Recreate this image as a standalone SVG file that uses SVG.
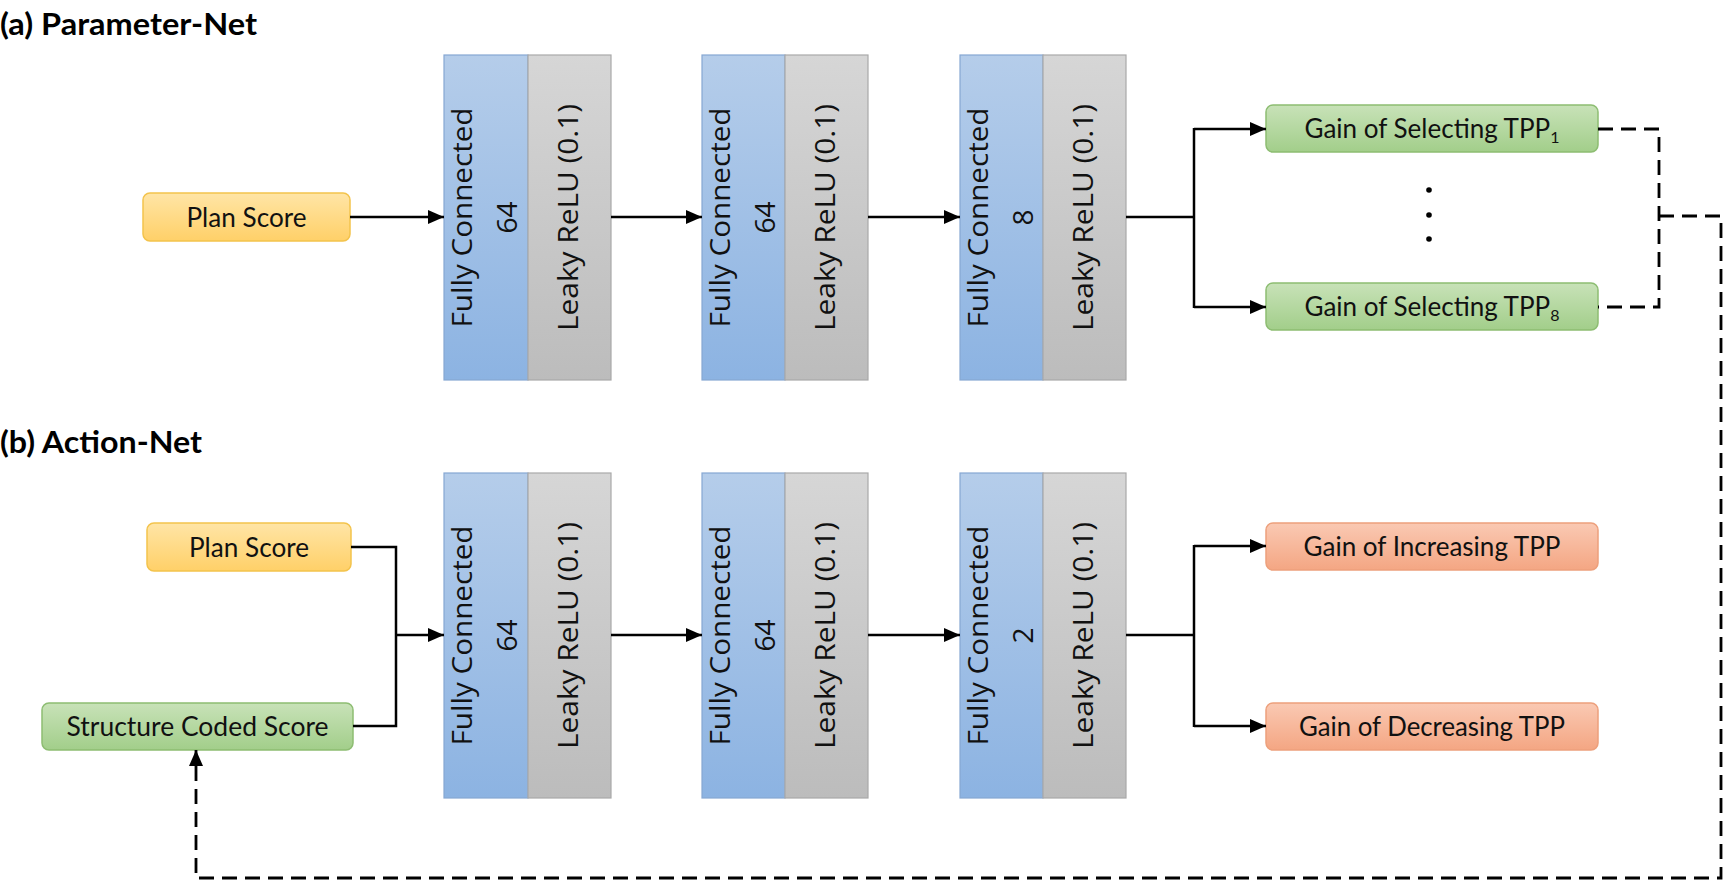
<svg xmlns="http://www.w3.org/2000/svg" width="1725" height="881" viewBox="0 0 1725 881">
<defs>
<linearGradient id="gBlue" x1="0" y1="0" x2="0" y2="1"><stop offset="0" stop-color="#b5cdea"/><stop offset="1" stop-color="#8cb3e2"/></linearGradient>
<linearGradient id="gGray" x1="0" y1="0" x2="0" y2="1"><stop offset="0" stop-color="#d6d6d6"/><stop offset="1" stop-color="#bcbcbc"/></linearGradient>
<linearGradient id="gYel" x1="0" y1="0" x2="0" y2="1"><stop offset="0" stop-color="#ffe5a6"/><stop offset="1" stop-color="#ffd068"/></linearGradient>
<linearGradient id="gGrn" x1="0" y1="0" x2="0" y2="1"><stop offset="0" stop-color="#c8e2b8"/><stop offset="1" stop-color="#a2ce8a"/></linearGradient>
<linearGradient id="gOrg" x1="0" y1="0" x2="0" y2="1"><stop offset="0" stop-color="#fac9b3"/><stop offset="1" stop-color="#f4a683"/></linearGradient>
<marker id="arr" viewBox="0 0 16 14" refX="16" refY="7" markerWidth="16" markerHeight="14" markerUnits="userSpaceOnUse" orient="auto"><path d="M0,0 L16,7 L0,14 z" fill="#000"/></marker>
</defs>
<style>
.title{font-family:Lato,"Liberation Sans",sans-serif;font-weight:700;font-size:30px;fill:#000}
.lbl{font-family:Lato,"Liberation Sans",sans-serif;font-size:26px;fill:#111;text-anchor:middle}
.sub{font-size:16px}
.rot{font-family:"Open Sans","Liberation Sans",sans-serif;font-size:28px;fill:#111;text-anchor:middle}
.fc{fill:url(#gBlue);stroke:#86a7d3;stroke-width:1.2}
.lr{fill:url(#gGray);stroke:#a9a9a9;stroke-width:1.2}
.yel{fill:url(#gYel);stroke:#f3c34c;stroke-width:1.5}
.grn{fill:url(#gGrn);stroke:#8dbd72;stroke-width:1.5}
.org{fill:url(#gOrg);stroke:#eda07c;stroke-width:1.5}
.ln{fill:none;stroke:#000;stroke-width:2.5}
.dash{fill:none;stroke:#000;stroke-width:2.8;stroke-dasharray:15 8}
</style>
<rect width="1725" height="881" fill="#fff"/>
<text class="title" x="0" y="35" textLength="257" lengthAdjust="spacingAndGlyphs">(a) Parameter-Net</text>
<text class="title" x="0" y="453" textLength="202" lengthAdjust="spacingAndGlyphs">(b) Action-Net</text>

<g id="a-plan-score"><rect class="yel" x="143" y="193" width="207" height="48" rx="7"/><text class="lbl" x="246.5" y="226.5" textLength="120" lengthAdjust="spacingAndGlyphs">Plan Score</text></g>

<g id="a-fc1"><rect class="fc" x="444" y="55" width="84" height="325"/><g transform="translate(472,217.5) rotate(-90)"><text class="rot" x="0" y="0" textLength="220" lengthAdjust="spacingAndGlyphs">Fully Connected</text><text class="rot" x="0" y="45">64</text></g></g>
<g id="a-lr1"><rect class="lr" x="528" y="55" width="83" height="325"/><g transform="translate(578,217.5) rotate(-90)"><text class="rot" x="0" y="0" textLength="227" lengthAdjust="spacingAndGlyphs">Leaky ReLU (0.1)</text></g></g>
<g id="a-fc2"><rect class="fc" x="702" y="55" width="83" height="325"/><g transform="translate(730,217.5) rotate(-90)"><text class="rot" x="0" y="0" textLength="220" lengthAdjust="spacingAndGlyphs">Fully Connected</text><text class="rot" x="0" y="45">64</text></g></g>
<g id="a-lr2"><rect class="lr" x="785" y="55" width="83" height="325"/><g transform="translate(835,217.5) rotate(-90)"><text class="rot" x="0" y="0" textLength="227" lengthAdjust="spacingAndGlyphs">Leaky ReLU (0.1)</text></g></g>
<g id="a-fc3"><rect class="fc" x="960" y="55" width="83" height="325"/><g transform="translate(988,217.5) rotate(-90)"><text class="rot" x="0" y="0" textLength="220" lengthAdjust="spacingAndGlyphs">Fully Connected</text><text class="rot" x="0" y="45">8</text></g></g>
<g id="a-lr3"><rect class="lr" x="1043" y="55" width="83" height="325"/><g transform="translate(1093,217.5) rotate(-90)"><text class="rot" x="0" y="0" textLength="227" lengthAdjust="spacingAndGlyphs">Leaky ReLU (0.1)</text></g></g>

<g id="a-gain1"><rect class="grn" x="1266" y="105" width="332" height="47" rx="7"/><text class="lbl" x="1432" y="138" textLength="255" lengthAdjust="spacingAndGlyphs">Gain of Selecting TPP<tspan class="sub" dy="5">1</tspan></text></g>
<g id="a-dots"><circle cx="1429" cy="190" r="2.8" fill="#000"/><circle cx="1429" cy="215" r="2.8" fill="#000"/><circle cx="1429" cy="239" r="2.8" fill="#000"/></g>
<g id="a-gain8"><rect class="grn" x="1266" y="283" width="332" height="47" rx="7"/><text class="lbl" x="1432" y="316" textLength="255" lengthAdjust="spacingAndGlyphs">Gain of Selecting TPP<tspan class="sub" dy="5">8</tspan></text></g>

<g id="b-plan-score"><rect class="yel" x="147" y="523" width="204" height="48" rx="7"/><text class="lbl" x="249" y="556.5" textLength="120" lengthAdjust="spacingAndGlyphs">Plan Score</text></g>
<g id="b-structure"><rect class="grn" x="42" y="703" width="311" height="47" rx="7"/><text class="lbl" x="197.5" y="736" textLength="262" lengthAdjust="spacingAndGlyphs">Structure Coded Score</text></g>

<g id="b-fc1"><rect class="fc" x="444" y="473" width="84" height="325"/><g transform="translate(472,635.5) rotate(-90)"><text class="rot" x="0" y="0" textLength="220" lengthAdjust="spacingAndGlyphs">Fully Connected</text><text class="rot" x="0" y="45">64</text></g></g>
<g id="b-lr1"><rect class="lr" x="528" y="473" width="83" height="325"/><g transform="translate(578,635.5) rotate(-90)"><text class="rot" x="0" y="0" textLength="227" lengthAdjust="spacingAndGlyphs">Leaky ReLU (0.1)</text></g></g>
<g id="b-fc2"><rect class="fc" x="702" y="473" width="83" height="325"/><g transform="translate(730,635.5) rotate(-90)"><text class="rot" x="0" y="0" textLength="220" lengthAdjust="spacingAndGlyphs">Fully Connected</text><text class="rot" x="0" y="45">64</text></g></g>
<g id="b-lr2"><rect class="lr" x="785" y="473" width="83" height="325"/><g transform="translate(835,635.5) rotate(-90)"><text class="rot" x="0" y="0" textLength="227" lengthAdjust="spacingAndGlyphs">Leaky ReLU (0.1)</text></g></g>
<g id="b-fc3"><rect class="fc" x="960" y="473" width="83" height="325"/><g transform="translate(988,635.5) rotate(-90)"><text class="rot" x="0" y="0" textLength="220" lengthAdjust="spacingAndGlyphs">Fully Connected</text><text class="rot" x="0" y="45">2</text></g></g>
<g id="b-lr3"><rect class="lr" x="1043" y="473" width="83" height="325"/><g transform="translate(1093,635.5) rotate(-90)"><text class="rot" x="0" y="0" textLength="227" lengthAdjust="spacingAndGlyphs">Leaky ReLU (0.1)</text></g></g>

<g id="b-inc"><rect class="org" x="1266" y="523" width="332" height="47" rx="7"/><text class="lbl" x="1432" y="556" textLength="257" lengthAdjust="spacingAndGlyphs">Gain of Increasing TPP</text></g>
<g id="b-dec"><rect class="org" x="1266" y="703" width="332" height="47" rx="7"/><text class="lbl" x="1432" y="736" textLength="266" lengthAdjust="spacingAndGlyphs">Gain of Decreasing TPP</text></g>

<g id="connectors">
<path class="ln" d="M350,217 H444" marker-end="url(#arr)"/>
<path class="ln" d="M611,217 H702" marker-end="url(#arr)"/>
<path class="ln" d="M868,217 H960" marker-end="url(#arr)"/>
<path class="ln" d="M1126,217 H1194"/>
<path class="ln" d="M1194,128 V308"/>
<path class="ln" d="M1194,129 H1266" marker-end="url(#arr)"/>
<path class="ln" d="M1194,307 H1266" marker-end="url(#arr)"/>
<path class="dash" d="M1598,129 H1659 V307 H1598"/>
<path class="dash" d="M1659,216 H1721 V878 H196 V750" marker-end="url(#arr)"/>
<path class="ln" d="M351,547 H396 V726 H353"/>
<path class="ln" d="M396,635 H444" marker-end="url(#arr)"/>
<path class="ln" d="M611,635 H702" marker-end="url(#arr)"/>
<path class="ln" d="M868,635 H960" marker-end="url(#arr)"/>
<path class="ln" d="M1126,635 H1194"/>
<path class="ln" d="M1194,545 V727"/>
<path class="ln" d="M1194,546 H1266" marker-end="url(#arr)"/>
<path class="ln" d="M1194,726 H1266" marker-end="url(#arr)"/>
</g>
</svg>
